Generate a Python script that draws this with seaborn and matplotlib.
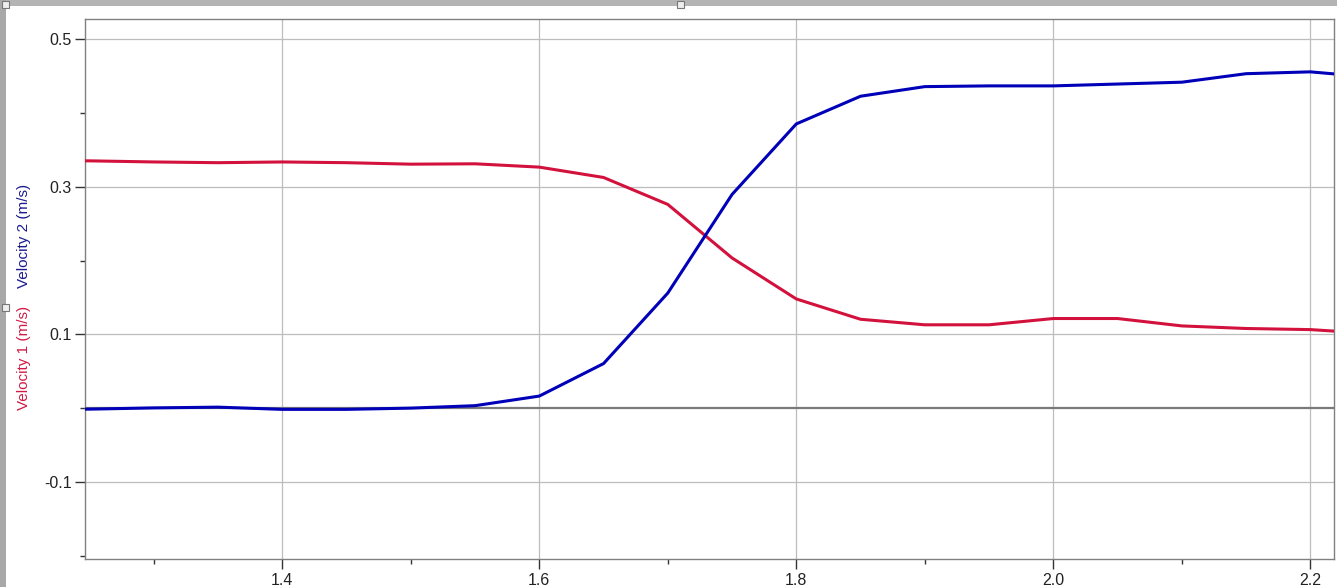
import numpy as np
import pandas as pd
import seaborn as sns
import matplotlib
matplotlib.use("Agg")
import matplotlib.pyplot as plt
from matplotlib.ticker import FixedLocator
from matplotlib.patches import Rectangle

# Time samples (s)
time_s = [1.20, 1.25, 1.30, 1.35, 1.40, 1.45, 1.50, 1.55, 1.60, 1.65, 1.70, 1.75,
          1.80, 1.85, 1.90, 1.95, 2.00, 2.05, 2.10, 2.15, 2.20, 2.25]

# Velocity 1 (m/s) - red
velocity_1 = [0.335, 0.335, 0.3335, 0.3325, 0.3335, 0.3325, 0.3305, 0.331, 0.3265,
              0.3125, 0.276, 0.2035, 0.148, 0.1205, 0.113, 0.113, 0.1215,
              0.1215, 0.1115, 0.108, 0.1065, 0.101]

# Velocity 2 (m/s) - blue
velocity_2 = [-0.0012, -0.0012, 0.0005, 0.0015, -0.0015, -0.0015, 0.0002, 0.0035,
              0.0165, 0.0605, 0.156, 0.2895, 0.385, 0.4225, 0.4355, 0.4365,
              0.4365, 0.439, 0.4415, 0.453, 0.4555, 0.448]

series_names = ["Velocity 1 (m/s)", "Velocity 2 (m/s)"]
red = "#d2113c"
blue = "#0000b8"

df = pd.concat([
    pd.DataFrame({"Time": time_s, "Velocity": velocity_1, "Series": series_names[0]}),
    pd.DataFrame({"Time": time_s, "Velocity": velocity_2, "Series": series_names[1]}),
], ignore_index=True)

sns.set_style("white")
plt.rcParams["font.family"] = ["Liberation Sans", "DejaVu Sans"]

fig = plt.figure(figsize=(13.37, 5.87), dpi=100)
ax = fig.add_axes([0.0638, 0.0472, 0.99753 - 0.0638, 0.9668 - 0.0472])

sns.lineplot(data=df, x="Time", y="Velocity", hue="Series",
             palette={series_names[0]: red, series_names[1]: blue},
             linewidth=2.2, legend=False, ax=ax, zorder=3)

ax.set_xlim(1.2467, 2.2182)
ax.set_ylim(-0.2045, 0.5264)

ax.xaxis.set_major_locator(FixedLocator([1.4, 1.6, 1.8, 2.0, 2.2]))
ax.xaxis.set_minor_locator(FixedLocator([1.3, 1.5, 1.7, 1.9, 2.1]))
ax.yaxis.set_major_locator(FixedLocator([-0.1, 0.1, 0.3, 0.5]))
ax.yaxis.set_minor_locator(FixedLocator([-0.2, 0.0, 0.2, 0.4]))
ax.set_xticklabels(["1.4", "1.6", "1.8", "2.0", "2.2"])
ax.set_yticklabels(["-0.1", "0.1", "0.3", "0.5"])

ax.tick_params(axis="both", which="major", direction="out", length=7, width=1,
               color="#333333", labelsize=11.5, labelcolor="#222222", pad=3,
               bottom=True, left=True)
ax.tick_params(axis="both", which="minor", direction="out", length=3.5, width=1,
               color="#333333", bottom=True, left=True)

ax.grid(True, which="major", color="#bdbdbd", linewidth=0.9, zorder=0)
ax.axhline(0, color="#7a7a7a", linewidth=1.6, zorder=2)

for s in ax.spines.values():
    s.set_color("#808080")
    s.set_linewidth(1.0)

ax.set_xlabel("")
ax.set_ylabel("")

# Two-colour y-axis label
fig.text(24 / 1337, 1 - 358 / 587, series_names[0], rotation=90, color="#d01b45",
         fontsize=11, ha="center", va="center")
fig.text(24 / 1337, 1 - 236 / 587, series_names[1], rotation=90, color="#1a1a8f",
         fontsize=11, ha="center", va="center")

# Window frame edges of the screenshot
fig.patches.append(Rectangle((0, 1 - 6 / 587), 1, 6 / 587, transform=fig.transFigure,
                             facecolor="#b4b4b4", edgecolor="none"))
fig.patches.append(Rectangle((0, 0), 6 / 1337, 1, transform=fig.transFigure,
                             facecolor="#a8a8a8", edgecolor="none"))
for hx, hy in [(5, 5), (680, 5), (5, 308)]:
    fig.patches.append(Rectangle(((hx - 3) / 1337, 1 - (hy + 3) / 587), 7 / 1337, 7 / 587,
                                 transform=fig.transFigure, facecolor="#eeeeee",
                                 edgecolor="#777777", linewidth=0.8))

fig.savefig("out.png", dpi=100)
